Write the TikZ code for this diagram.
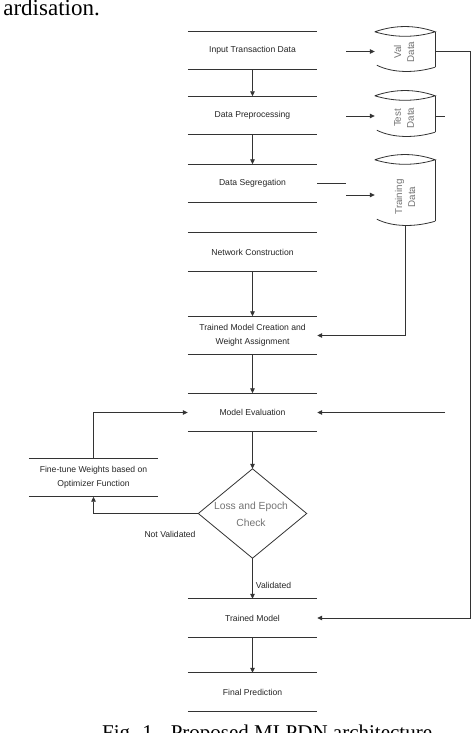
\documentclass[tikz,border=0pt]{standalone}
\usepackage{fontspec}
\setmainfont{Liberation Sans}
\newfontfamily\capfont{Liberation Serif}
\usetikzlibrary{arrows.meta,calc}
\definecolor{lncol}{gray}{0.2}
\definecolor{txcol}{gray}{0.15}
\definecolor{gtx}{gray}{0.45}
\tikzset{
  openbox/.style={minimum width=129pt, minimum height=38pt, inner sep=0pt, align=center, text=txcol,
    font=\fontsize{8.6}{14}\selectfont},
  cylbox/.style={minimum width=60pt, inner sep=0pt},
  cyltext/.style={rotate=90, align=center, text=gtx, font=\fontsize{9.8}{13}\selectfont, inner sep=0pt},
  lbl/.style={text=txcol, font=\fontsize{8.6}{10}\selectfont, inner sep=0pt},
  shp/.style={draw=lncol, line width=0.8pt},
  arr/.style={draw=lncol, line width=0.8pt, -{Triangle[length=5pt,width=4.5pt]}},
  ln/.style={draw=lncol, line width=0.8pt},
}
\newcommand{\boxlines}[1]{%
  \draw[shp] (#1.north west) -- (#1.north east);
  \draw[shp] (#1.south west) -- (#1.south east);}
\newcommand{\cylshape}[1]{%
  \draw[shp] (#1.north west) .. controls ($(#1.north west)+(20,-7)$) and ($(#1.north east)+(-20,-7)$) .. (#1.north east)
     .. controls ($(#1.north east)+(-20,6)$) and ($(#1.north west)+(20,6)$) .. (#1.north west);
  \draw[shp] (#1.north east) -- ($(#1.south east)+(0,-4)$);
  \draw[shp] ($(#1.south west)+(2,-6)$) .. controls ($(#1.south west)+(18,2)$) and ($(#1.south east)+(-20,2)$) .. ($(#1.south east)+(0,-4)$);}
\begin{document}
\begin{tikzpicture}[x=1pt,y=-1pt]
\useasboundingbox (0,0) rectangle (474,733);
\clip (0,0) rectangle (474,733);
\fill[white] (0,0) rectangle (474,733);

% surrounding page text
\node[anchor=base east, inner sep=0pt, font=\capfont\fontsize{23}{23}\selectfont] (prev) at (100,16) {ardisation.};
\node[anchor=base west, inner sep=0pt, font=\capfont\fontsize{21}{21}\selectfont] (cap) at (102,739) {Fig. 1.\hspace{0.6em}Proposed MLPDN architecture};

% main boxes
\node[openbox] (in)   at (252.5,50.5)  {Input Transaction Data};
\node[openbox] (pre)  at (252.5,115.5) {Data Preprocessing};
\node[openbox] (seg)  at (252.5,183.5) {Data Segregation};
\node[openbox] (net)  at (252.5,252)   {Network Construction};
\node[openbox] (tmc)  at (252.5,335.5) {Trained Model Creation and\\Weight Assignment};
\node[openbox] (eval) at (252.5,412.5) {Model Evaluation};
\node[openbox] (fine) at (93.5,477.5)  {Fine-tune Weights based on\\Optimizer Function};
\node[openbox] (tm)   at (252.5,618)   {Trained Model};
\node[openbox] (fp)   at (252.5,692)   {Final Prediction};
\foreach \n in {in,pre,seg,net,tmc,eval,fine,tm,fp} {\boxlines{\n}}

% decision
\node[minimum width=108pt, minimum height=89pt, inner sep=0pt] (chk) at (252.5,513.5) {};
\draw[shp] (chk.north) -- (chk.east) -- (chk.south) -- (chk.west) -- cycle;
\node[align=center, text=gtx, font=\fontsize{10.3}{17}\selectfont, inner sep=0pt] (chktxt) at (251,514) {Loss and Epoch\\Check};

% data stores
\node[cylbox, minimum height=39pt] (val)   at (405,51.5)  {};
\node[cylbox, minimum height=40pt] (test)  at (405,116)   {};
\node[cylbox, minimum height=65pt] (train) at (405,192.5) {};
\cylshape{val}
\cylshape{test}
\cylshape{train}
\node[cyltext] (valt)   at (404,52)  {Val\\Data};
\node[cyltext] (testt)  at (404,118) {Test\\Data};
\node[cyltext] (traint) at (405,197) {Training\\Data};

% main flow
\draw[arr] (in.south) -- (pre.north);
\draw[arr] (pre.south) -- (seg.north);
\draw[arr] (net.south) -- (tmc.north);
\draw[arr] (tmc.south) -- (eval.north);
\draw[arr] (eval.south) -- (chk.north);
\draw[arr] (chk.south) -- node[lbl, pos=0.66, anchor=west, xshift=3pt] (vlbl) {Validated} (tm.north);
\draw[arr] (tm.south) -- (fp.north);

% loop
\draw[arr] (chk.west) -| (fine.south);
\draw[arr] (fine.north) |- (eval.west);
\node[lbl] (nv) at (170,534) {Not Validated};

% data store connections
\coordinate (va) at (346,51.5);
\coordinate (ta) at (346,116);
\coordinate (sa) at (346,183.5);
\coordinate (tra) at (346,195);
\coordinate (ts) at (445,116);
\coordinate (vr) at (470,51.5);
\coordinate (er) at (445,412.5);
\draw[arr] (va) -- (va -| val.west);
\draw[arr] (ta) -- (ta -| test.west);
\draw[ln] (seg.east) -- (sa);
\draw[arr] (tra) -- (tra -| train.west);
\draw[ln] (test.east) -- (ts);
\draw[arr] (val.east) -- (vr) |- (tm.east);
\draw[arr] (train.south) |- (tmc.east);
\draw[arr] (er) -- (eval.east);
\end{tikzpicture}
\end{document}
